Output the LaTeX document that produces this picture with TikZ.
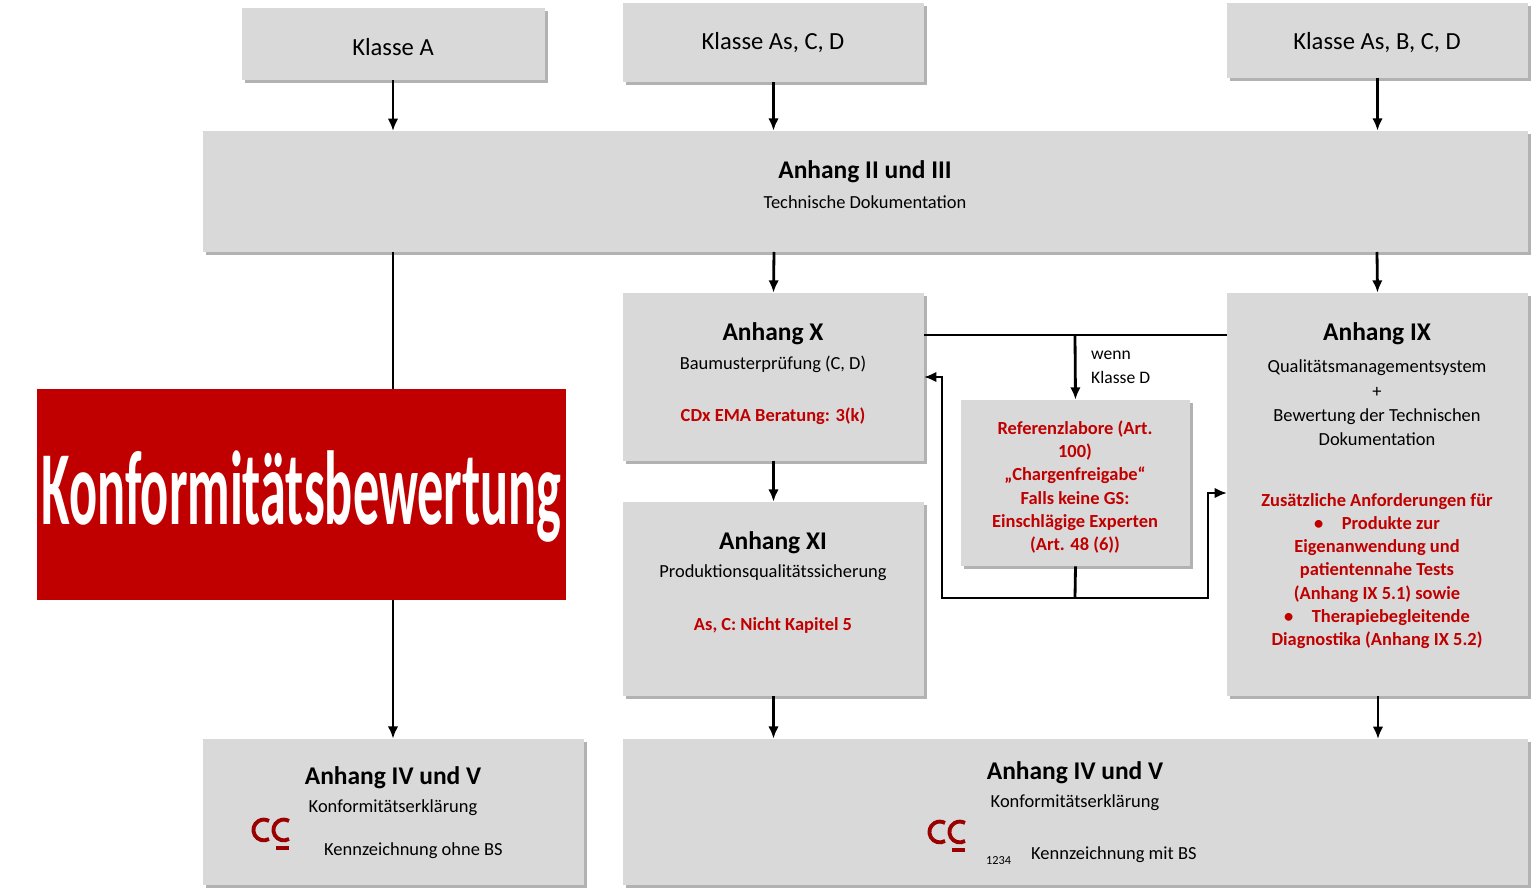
\documentclass[tikz,border=0pt]{standalone}
\usepackage{fontspec}
\setmainfont{Carlito}
\usetikzlibrary{arrows.meta}
\definecolor{rd}{HTML}{C00000}
\definecolor{bg}{HTML}{D9D9D9}
\definecolor{ce}{HTML}{9B0000}
\tikzset{
  boxs/.style={fill=bg, inner sep=0pt, draw=none},
  arr/.style={line width=1.6pt, -{Latex[length=7pt,width=6pt]}},
  ln/.style={line width=1.6pt},
  ttl/.style={font=\fontsize{14.5}{16}\selectfont\bfseries, align=center},
  sub/.style={font=\fontsize{10.5}{14.5}\selectfont, align=center},
  red/.style={font=\fontsize{10.5}{13.2}\selectfont\bfseries, text=rd, align=center},
  kl/.style={font=\fontsize{14}{16}\selectfont}
}
\newcommand\bx[5]{%
  \fill[black!30] ({#2+3},{#3+3}) rectangle ({#4+3},{#5+3});
  \node[boxs, minimum width={(#4-#2)*0.02cm}, minimum height={(#5-#3)*0.02cm}] (#1) at ({(#2+#4)/2},{(#3+#5)/2}) {};}
\newcommand\cemark[2]{%
  \begin{scope}[shift={(#1,#2)}, line width=2.2pt, ce]
   \draw (7,-9) arc (60:300:10.4 and 10.4);
   \draw (27,-9) arc (60:300:10.4 and 10.4);
   \draw (14,0) -- (27,0);
  \end{scope}}
\begin{document}
\begin{tikzpicture}[x=0.02cm,y=-0.02cm]
\fill[white] (0,0) rectangle (1536,891);
\bx{ka}{242}{8}{545}{80}
\bx{kb}{623}{3}{924}{82}
\bx{kc}{1227}{3}{1528}{78}
\bx{a23}{203}{131}{1528}{252}
\bx{ax}{623}{293}{924}{461}
\bx{axi}{623}{502}{924}{696}
\bx{ref}{961}{400}{1190}{566}
\bx{aix}{1227}{293}{1528}{696}
\bx{ivl}{203}{739}{584}{885}
\bx{ivr}{623}{739}{1528}{885}
\node[kl] at (393,47) {Klasse A};
\node[kl] at (773,43) {Klasse As, C, D};
\node[kl] at (1377,43) {Klasse As, B, C, D};
\node[ttl] at (865,172) {Anhang II und III};
\node[sub] at (865,202) {Technische Dokumentation};
\node[ttl] at (773,334) {Anhang X};
\node[sub] at (773,364) {Baumusterprüfung (C, D)};
\node[red] at (773,416) {CDx EMA Beratung: 3(k)};
\node[ttl] at (773,543) {Anhang XI};
\node[sub] at (773,573) {Produktionsqualitätssicherung};
\node[red] at (773,625) {As, C: Nicht Kapitel 5};
\node[red] at (1075,487) {Referenzlabore (Art.\\100)\\„Chargenfreigabe“\\Falls keine GS:\\Einschlägige Experten\\(Art. 48 (6))};
\node[ttl] at (1377,334) {Anhang IX};
\node[sub, font=\fontsize{10.5}{13.8}\selectfont] at (1377,403) {Qualitätsmanagementsystem\\+\\Bewertung der Technischen\\Dokumentation};
\node[red] at (1377,571) {Zusätzliche Anforderungen für\\•\quad Produkte zur\\Eigenanwendung und\\patientennahe Tests\\(Anhang IX 5.1) sowie\\•\quad Therapiebegleitende\\Diagnostika (Anhang IX 5.2)};
\node[ttl] at (393,778) {Anhang IV und V};
\node[sub] at (393,808) {Konformitätserklärung};
\cemark{262}{848}
\node[sub, anchor=west] at (318,851) {Kennzeichnung ohne BS};
\node[ttl] at (1075,773) {Anhang IV und V};
\node[sub] at (1075,803) {Konformitätserklärung};
\cemark{938}{850}
\node[font=\fontsize{7}{8}\selectfont, anchor=west] at (980,861) {1234};
\node[sub, anchor=west] at (1025,855) {Kennzeichnung mit BS};
\node[fill=rd, minimum width={529*0.02cm}, minimum height={211*0.02cm}, inner sep=0pt] (kb2) at (301.5,494.5) {};
\node[text=white] at (301.5,497) {\resizebox{296pt}{42pt}{\bfseries Konformitätsbewertung}};
% connectors
\draw[arr] (ka.south -| 393,0) -- (393,131);
\draw[arr] (kb.south) -- (kb.south |- a23.north);
\draw[arr] (kc.south) -- (kc.south |- a23.north);
\draw[ln] (393,252) -- (kb2.north -| 393,0);
\draw[arr] (kb2.south -| 393,0) -- (ivl.north -| 393,0);
\draw[arr] (774,252) -- (ax.north);
\draw[arr] (1377,252) -- (aix.north);
\draw[arr] (ax.south) -- (axi.north);
\draw[arr] (axi.south) -- (axi.south |- ivr.north);
\draw[arr] (1378,696) -- (1378,739);
\draw[ln] (924,335) -- (1227,335);
\draw[arr] (1075,335) -- (ref.north);
\node[sub, anchor=west, align=left, font=\fontsize{10}{13.5}\selectfont] at (1085,367) {wenn\\Klasse D};
\draw[ln] (ref.south) -- (1075,598);
\draw[arr] (942,598) -- (1208,598) -- (1208,493) -- (1227,493);
\draw[arr] (1075,598) -- (942,598) -- (942,377) -- (924,377);
\end{tikzpicture}
\end{document}
